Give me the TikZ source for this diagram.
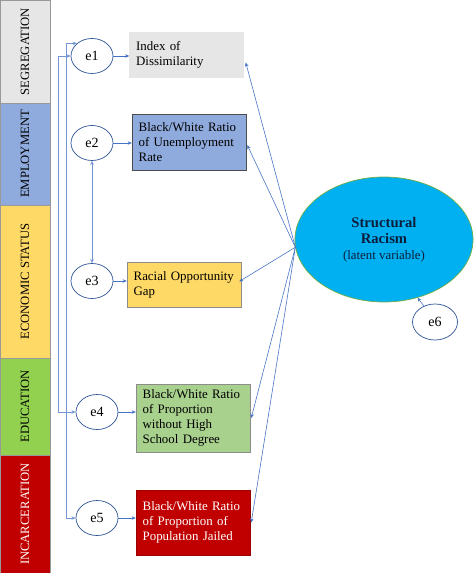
\documentclass[tikz,border=0pt]{standalone}
\usepackage{fontspec}
\setmainfont{Liberation Serif}
\usetikzlibrary{arrows.meta,shapes.geometric,positioning}

\definecolor{lnblue}{RGB}{68,114,196}
\definecolor{errline}{RGB}{47,85,151}
\definecolor{seggray}{RGB}{231,230,230}
\definecolor{empblue}{RGB}{143,170,220}
\definecolor{ecoyel}{RGB}{255,217,102}
\definecolor{edugrn}{RGB}{146,208,80}
\definecolor{edubox}{RGB}{169,209,142}
\definecolor{incred}{RGB}{192,0,0}
\definecolor{latblue}{RGB}{0,176,240}
\definecolor{latedge}{RGB}{112,173,71}
\definecolor{navytxt}{RGB}{12,30,60}

\tikzset{
  err/.style={ellipse,draw=errline,fill=white,line width=0.6pt,minimum width=1.26cm,minimum height=1.05cm,inner sep=0pt,font=\fontsize{12}{14}\selectfont},
  ind/.style={rectangle,draw=gray!90,align=left,text width=3.02cm,inner xsep=0.2cm,inner ysep=2pt,font=\fontsize{11}{12.8}\selectfont},
  arr/.style={lnblue,line width=0.5pt,-{Stealth[length=3.5pt,width=3pt]}},
  dbl/.style={lnblue!75,line width=0.6pt,{Stealth[length=3.5pt,width=3pt]}-{Stealth[length=3.5pt,width=3pt]}}
}

\newcommand{\srbold}[1]{{\fontsize{12.5}{14.5}\selectfont\bfseries #1}}

\begin{document}
\begin{tikzpicture}[x=0.03cm,y=-0.03cm]
\useasboundingbox (0,0) rectangle (474,573);

% domain bands
\foreach \ya/\yb/\col/\txt/\tc [count=\i] in {0/103/seggray/SEGREGATION/black,103/205/empblue/EMPLOYMENT/black,205/358/ecoyel/ECONOMIC STATUS/black,358/455/edugrn/EDUCATION/black,455/573/incred/INCARCERATION/white}
{
\filldraw[fill=\col,draw=gray!80] (0,\ya) rectangle (50,\yb);
\node[rotate=90,text=\tc,font=\fontsize{10.8}{12}\selectfont] (band\i) at (25,{(\ya+\yb)/2}) {\txt};
}

% error terms
\node[err] (e1) at (92,56) {e1};
\node[err] (e2) at (92,143) {e2};
\node[err] (e3) at (92,281) {e3};
\node[err] (e4) at (97,412) {e4};
\node[err] (e5) at (97,518) {e5};
\node[err,minimum width=1.35cm,minimum height=1.08cm] (e6) at (435,322) {e6};

% indicators
\node[ind,fill=seggray,draw=seggray,minimum height=1.35cm] (b1) at (186.5,54.5) {Index of\\Dissimilarity};
\node[ind,fill=empblue,draw=gray!60!black,minimum height=1.68cm] (b2) at (189,142) {Black/White Ratio\\of Unemployment\\Rate};
\node[ind,fill=ecoyel,minimum height=1.35cm] (b3) at (184,284.5) {Racial Opportunity\\Gap};
\node[ind,fill=edubox,minimum height=2.04cm] (b4) at (193,418) {Black/White Ratio\\of Proportion\\without High\\School Degree};
\node[ind,fill=incred,draw=incred!80!black,text=white,minimum height=1.95cm] (b5) at (193,522.5) {Black/White Ratio\\of Proportion of\\Population Jailed};

% latent variable
\node[ellipse,fill=latblue,draw=latedge,line width=0.6pt,minimum width=5.34cm,minimum height=3.75cm,align=center,text=navytxt,font=\fontsize{11}{13.6}\selectfont] (sr) at (384,239.5) {\srbold{Structural}\\\srbold{Racism}\\(latent variable)};

\foreach \b/\dx/\dy in {b1/2/8,b2/1/3,b3/-2/-3,b4/1/0,b5/1/0}
\draw[arr] (sr.185) -- ([shift={(\dx,\dy)}]\b.east);

\foreach \i in {1,...,5}
\draw[arr] (e\i.east) -- (e\i.east -| b\i.west);

\draw[arr] (e6.125) -- (sr.300);

% correlated errors
\coordinate (lnA) at (58,0);
\coordinate (lnB) at (66,0);
\draw[dbl] (e1.west) -- (e1.west -| lnA) |- (e4.west);
\draw[dbl] (e1.north west) -- (e1.north west -| lnB) |- (e5.west);
\draw[dbl] (e2.south) -- (e3.north);
\end{tikzpicture}
\end{document}
